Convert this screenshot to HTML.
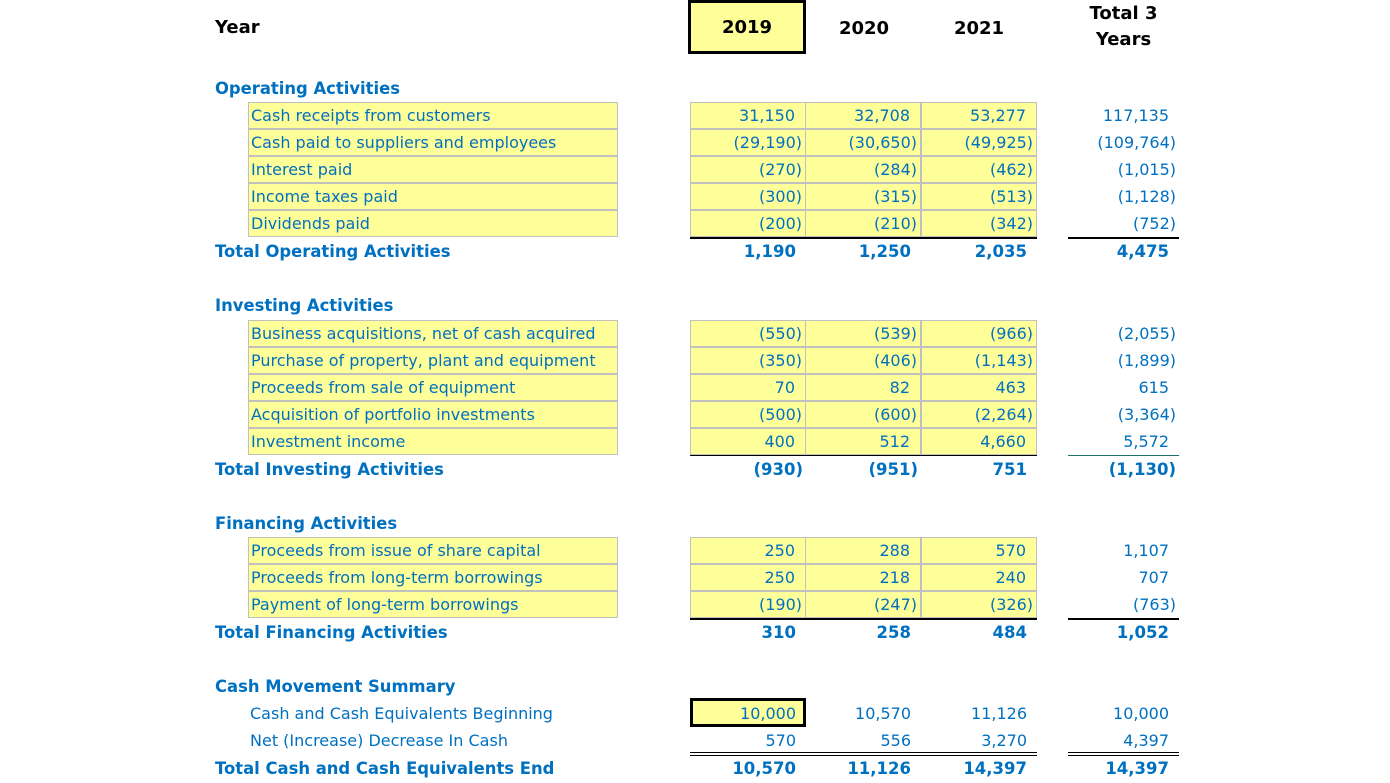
<!DOCTYPE html>
<html><head><meta charset="utf-8"><style>
body{margin:0;width:1390px;height:783px;background:#fff;position:relative;overflow:hidden;font-family:"DejaVu Sans","Liberation Sans",sans-serif;font-size:16px;color:#0070c0}
.a{position:absolute;white-space:nowrap;line-height:28px;height:27px}
.h{font-weight:bold;font-size:16.4px}
.k{color:#000;font-weight:bold;font-size:18px}
.y{background:#ffff99;border:1px solid #c0c0c0;box-sizing:border-box;line-height:26px}
.l{left:248px;width:370px;padding-left:2px}
.n{text-align:right;box-sizing:border-box}
.c1{left:690px;width:116px}.c2{left:805px;width:116px}.c3{left:921px;width:116px}.c4{left:1068px;width:111px}
.p{padding-right:10px}.m{padding-right:3px}
.b{font-weight:bold;font-size:16.5px}
.ln{position:absolute;height:2px;background:#000}
.dl{position:absolute;border-top:1px solid #000;border-bottom:1px solid #000;height:2px}
</style></head><body>
<div class="a k" style="left:215px;top:14px">Year</div>
<div class="a k" style="left:688px;top:0;width:118px;height:54px;border:3px solid #000;box-sizing:border-box;background:#ffff99;line-height:50px;text-align:center">2019</div>
<div class="a k" style="left:806px;top:15px;width:116px;text-align:center">2020</div>
<div class="a k" style="left:921px;top:15px;width:116px;text-align:center">2021</div>
<div class="a k" style="left:1068px;top:1px;width:111px;text-align:center;line-height:26px;height:52px">Total 3<br>Years</div>

<div class="a h" style="left:215px;top:75px">Operating Activities</div>
<div class="a y l" style="top:102px">Cash receipts from customers</div>
<div class="a y l" style="top:129px">Cash paid to suppliers and employees</div>
<div class="a y l" style="top:156px">Interest paid</div>
<div class="a y l" style="top:183px">Income taxes paid</div>
<div class="a y l" style="top:210px">Dividends paid</div>
<div class="a y n c1 p" style="top:102px">31,150</div><div class="a y n c2 p" style="top:102px">32,708</div><div class="a y n c3 p" style="top:102px">53,277</div><div class="a n c4 p" style="top:102px">117,135</div>
<div class="a y n c1 m" style="top:129px">(29,190)</div><div class="a y n c2 m" style="top:129px">(30,650)</div><div class="a y n c3 m" style="top:129px">(49,925)</div><div class="a n c4 m" style="top:129px">(109,764)</div>
<div class="a y n c1 m" style="top:156px">(270)</div><div class="a y n c2 m" style="top:156px">(284)</div><div class="a y n c3 m" style="top:156px">(462)</div><div class="a n c4 m" style="top:156px">(1,015)</div>
<div class="a y n c1 m" style="top:183px">(300)</div><div class="a y n c2 m" style="top:183px">(315)</div><div class="a y n c3 m" style="top:183px">(513)</div><div class="a n c4 m" style="top:183px">(1,128)</div>
<div class="a y n c1 m" style="top:210px">(200)</div><div class="a y n c2 m" style="top:210px">(210)</div><div class="a y n c3 m" style="top:210px">(342)</div><div class="a n c4 m" style="top:210px">(752)</div>
<div class="ln" style="left:690px;width:347px;top:237px"></div><div class="ln" style="left:1068px;width:111px;top:237px"></div>
<div class="a h" style="left:215px;top:238px">Total Operating Activities</div>
<div class="a n c1 p b" style="top:238px">1,190</div><div class="a n c2 p b" style="top:238px">1,250</div><div class="a n c3 p b" style="top:238px">2,035</div><div class="a n c4 p b" style="top:238px">4,475</div>

<div class="a h" style="left:215px;top:292px">Investing Activities</div>
<div class="a y l" style="top:320px">Business acquisitions, net of cash acquired</div>
<div class="a y l" style="top:347px">Purchase of property, plant and equipment</div>
<div class="a y l" style="top:374px">Proceeds from sale of equipment</div>
<div class="a y l" style="top:401px">Acquisition of portfolio investments</div>
<div class="a y l" style="top:428px">Investment income</div>
<div class="a y n c1 m" style="top:320px">(550)</div><div class="a y n c2 m" style="top:320px">(539)</div><div class="a y n c3 m" style="top:320px">(966)</div><div class="a n c4 m" style="top:320px">(2,055)</div>
<div class="a y n c1 m" style="top:347px">(350)</div><div class="a y n c2 m" style="top:347px">(406)</div><div class="a y n c3 m" style="top:347px">(1,143)</div><div class="a n c4 m" style="top:347px">(1,899)</div>
<div class="a y n c1 p" style="top:374px">70</div><div class="a y n c2 p" style="top:374px">82</div><div class="a y n c3 p" style="top:374px">463</div><div class="a n c4 p" style="top:374px">615</div>
<div class="a y n c1 m" style="top:401px">(500)</div><div class="a y n c2 m" style="top:401px">(600)</div><div class="a y n c3 m" style="top:401px">(2,264)</div><div class="a n c4 m" style="top:401px">(3,364)</div>
<div class="a y n c1 p" style="top:428px">400</div><div class="a y n c2 p" style="top:428px">512</div><div class="a y n c3 p" style="top:428px">4,660</div><div class="a n c4 p" style="top:428px">5,572</div>
<div class="ln" style="left:690px;width:347px;top:455px;height:1px"></div><div class="ln" style="left:1068px;width:111px;top:455px;height:1px;background:#1f6f6f"></div>
<div class="a h" style="left:215px;top:456px">Total Investing Activities</div>
<div class="a n c1 m b" style="top:456px">(930)</div><div class="a n c2 m b" style="top:456px">(951)</div><div class="a n c3 p b" style="top:456px">751</div><div class="a n c4 m b" style="top:456px">(1,130)</div>

<div class="a h" style="left:215px;top:510px">Financing Activities</div>
<div class="a y l" style="top:537px">Proceeds from issue of share capital</div>
<div class="a y l" style="top:564px">Proceeds from long-term borrowings</div>
<div class="a y l" style="top:591px">Payment of long-term borrowings</div>
<div class="a y n c1 p" style="top:537px">250</div><div class="a y n c2 p" style="top:537px">288</div><div class="a y n c3 p" style="top:537px">570</div><div class="a n c4 p" style="top:537px">1,107</div>
<div class="a y n c1 p" style="top:564px">250</div><div class="a y n c2 p" style="top:564px">218</div><div class="a y n c3 p" style="top:564px">240</div><div class="a n c4 p" style="top:564px">707</div>
<div class="a y n c1 m" style="top:591px">(190)</div><div class="a y n c2 m" style="top:591px">(247)</div><div class="a y n c3 m" style="top:591px">(326)</div><div class="a n c4 m" style="top:591px">(763)</div>
<div class="ln" style="left:690px;width:347px;top:618px"></div><div class="ln" style="left:1068px;width:111px;top:618px"></div>
<div class="a h" style="left:215px;top:619px">Total Financing Activities</div>
<div class="a n c1 p b" style="top:619px">310</div><div class="a n c2 p b" style="top:619px">258</div><div class="a n c3 p b" style="top:619px">484</div><div class="a n c4 p b" style="top:619px">1,052</div>

<div class="a h" style="left:215px;top:673px">Cash Movement Summary</div>
<div class="a" style="left:250px;top:700px">Cash and Cash Equivalents Beginning</div>
<div class="a" style="left:250px;top:727px">Net (Increase) Decrease In Cash</div>
<div class="a n c1" style="top:698px;height:29px;border:3px solid #000;background:#ffff99;padding-right:7px;line-height:26px">10,000</div>
<div class="a n c2 p" style="top:700px">10,570</div><div class="a n c3 p" style="top:700px">11,126</div><div class="a n c4 p" style="top:700px">10,000</div>
<div class="a n c1 p" style="top:727px">570</div><div class="a n c2 p" style="top:727px">556</div><div class="a n c3 p" style="top:727px">3,270</div><div class="a n c4 p" style="top:727px">4,397</div>
<div class="dl" style="left:690px;width:347px;top:752px"></div><div class="dl" style="left:1068px;width:111px;top:752px"></div>
<div class="a h" style="left:215px;top:755px">Total Cash and Cash Equivalents End</div>
<div class="a n c1 p b" style="top:755px">10,570</div><div class="a n c2 p b" style="top:755px">11,126</div><div class="a n c3 p b" style="top:755px">14,397</div><div class="a n c4 p b" style="top:755px">14,397</div>
</body></html>
